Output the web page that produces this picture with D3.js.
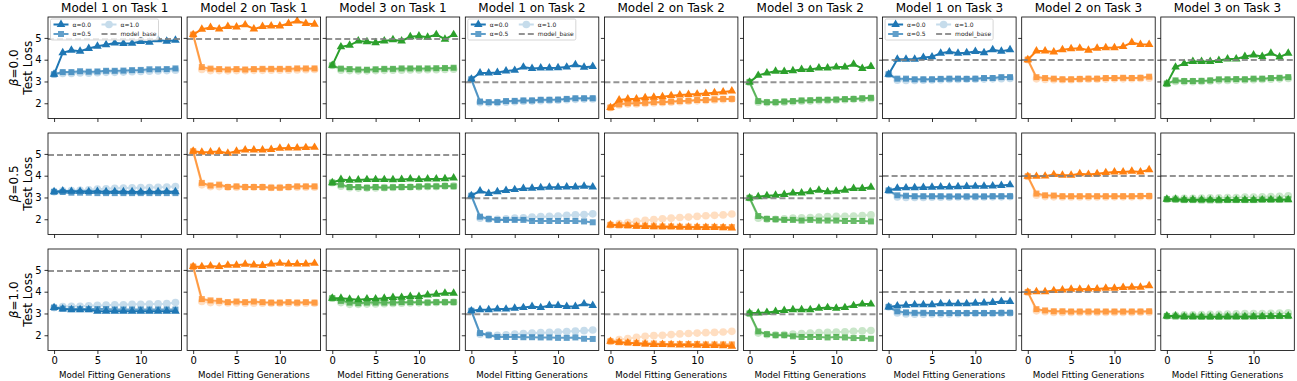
<!DOCTYPE html>
<html><head><meta charset="utf-8">
<script src="https://cdn.jsdelivr.net/npm/d3@7"></script>
<style>body{margin:0;background:#fff}svg{display:block}text{font-family:"DejaVu Sans",sans-serif}</style>
</head><body><svg id="c" width="1297" height="381"></svg>
<script>
const generations = [0,1,2,3,4,5,6,7,8,9,10,11,12,13,14];
const models = ["Model 1","Model 2","Model 3"];
const tasks = ["Task 1","Task 2","Task 3"];
const betaLabels = ["0.0","0.5","1.0"];
const alphaLabels = ["0.0","0.5","1.0"];
const modelBase = [4.95, 2.97, 3.99]; // per task
const yTicks = [2,3,4,5];
const xTicks = [0,5,10];
const modelColors = ["#1f77b4","#ff7f0e","#2ca02c"];

// panels ordered: Task1(M1,M2,M3), Task2(M1,M2,M3), Task3(M1,M2,M3)
const beta00_alpha00 = [
 [3.33,4.32,4.43,4.39,4.51,4.62,4.69,4.77,4.74,4.75,4.83,4.80,4.91,4.85,4.89],
 [5.15,5.40,5.48,5.41,5.52,5.50,5.60,5.41,5.52,5.55,5.55,5.66,5.77,5.66,5.63],
 [3.74,4.59,4.66,4.86,4.82,4.78,4.86,4.92,4.86,5.05,5.09,5.03,5.15,4.94,5.15],
 [3.10,3.39,3.39,3.41,3.48,3.51,3.66,3.60,3.62,3.62,3.63,3.66,3.77,3.65,3.69],
 [1.80,2.15,2.20,2.20,2.25,2.28,2.30,2.35,2.38,2.40,2.42,2.45,2.48,2.52,2.56],
 [2.97,3.28,3.39,3.47,3.46,3.49,3.55,3.55,3.62,3.62,3.66,3.66,3.79,3.60,3.69],
 [3.33,4.02,4.02,4.02,4.10,4.13,4.30,4.36,4.30,4.32,4.38,4.32,4.46,4.39,4.46],
 [4.00,4.40,4.40,4.35,4.46,4.50,4.53,4.43,4.53,4.55,4.55,4.60,4.79,4.70,4.70],
 [2.90,3.66,3.82,3.92,3.92,3.92,3.96,4.03,4.03,4.15,4.22,4.15,4.30,4.12,4.30]];
const beta00_alpha05 = [
 [3.33,3.43,3.43,3.47,3.45,3.46,3.49,3.49,3.50,3.52,3.53,3.56,3.56,3.57,3.60],
 [5.15,3.66,3.59,3.57,3.55,3.57,3.55,3.57,3.58,3.58,3.58,3.58,3.60,3.60,3.60],
 [3.74,3.59,3.57,3.55,3.54,3.56,3.58,3.58,3.60,3.60,3.60,3.60,3.61,3.62,3.63],
 [3.10,2.08,2.05,2.05,2.10,2.11,2.13,2.13,2.16,2.16,2.17,2.20,2.23,2.23,2.23],
 [1.80,1.95,2.00,2.00,2.02,2.05,2.05,2.08,2.10,2.12,2.15,2.15,2.18,2.20,2.20],
 [2.97,2.10,2.05,2.05,2.08,2.10,2.13,2.14,2.16,2.16,2.17,2.19,2.20,2.23,2.25],
 [3.33,3.13,3.13,3.10,3.10,3.10,3.12,3.13,3.13,3.12,3.13,3.16,3.16,3.20,3.20],
 [4.00,3.20,3.16,3.13,3.10,3.10,3.12,3.13,3.13,3.16,3.16,3.17,3.16,3.17,3.22],
 [2.90,3.05,3.02,3.02,3.03,3.05,3.10,3.10,3.11,3.10,3.13,3.13,3.16,3.17,3.20]];
const beta00_alpha10 = [
 [3.33,3.37,3.37,3.39,3.38,3.40,3.42,3.42,3.43,3.45,3.46,3.47,3.48,3.50,3.52],
 [5.15,3.55,3.50,3.50,3.49,3.50,3.50,3.51,3.51,3.52,3.52,3.52,3.53,3.54,3.55],
 [3.74,3.52,3.50,3.49,3.49,3.50,3.51,3.52,3.52,3.53,3.53,3.54,3.54,3.55,3.56],
 [3.10,2.03,2.02,2.03,2.05,2.07,2.09,2.10,2.12,2.13,2.14,2.16,2.18,2.19,2.20],
 [1.80,1.92,1.96,1.97,1.99,2.01,2.03,2.05,2.07,2.09,2.11,2.13,2.15,2.17,2.19],
 [2.97,2.05,2.03,2.03,2.05,2.07,2.09,2.10,2.12,2.13,2.15,2.16,2.18,2.19,2.21],
 [3.33,3.06,3.05,3.05,3.06,3.07,3.08,3.09,3.09,3.10,3.10,3.11,3.12,3.13,3.14],
 [4.00,3.12,3.09,3.08,3.08,3.08,3.09,3.10,3.10,3.11,3.12,3.12,3.13,3.14,3.15],
 [2.90,3.00,2.99,2.99,3.00,3.02,3.04,3.05,3.06,3.07,3.08,3.09,3.10,3.12,3.14]];
const beta05_alpha00 = [
 [3.26,3.30,3.28,3.28,3.27,3.28,3.26,3.27,3.26,3.26,3.25,3.26,3.26,3.27,3.26],
 [5.12,5.08,5.09,5.11,5.03,5.12,5.18,5.18,5.18,5.20,5.26,5.27,5.27,5.29,5.30],
 [3.68,3.83,3.79,3.80,3.82,3.82,3.82,3.81,3.83,3.85,3.82,3.85,3.85,3.86,3.89],
 [3.08,3.30,3.18,3.26,3.32,3.36,3.41,3.42,3.45,3.47,3.47,3.48,3.48,3.52,3.48],
 [1.74,1.72,1.70,1.68,1.67,1.66,1.66,1.65,1.64,1.63,1.63,1.62,1.62,1.61,1.60],
 [2.98,3.03,3.08,3.10,3.14,3.20,3.21,3.26,3.33,3.26,3.29,3.33,3.41,3.41,3.47],
 [3.32,3.42,3.44,3.45,3.46,3.47,3.48,3.48,3.49,3.50,3.51,3.52,3.53,3.55,3.58],
 [3.97,3.97,3.98,4.05,4.02,4.02,4.09,4.06,4.09,4.14,4.17,4.17,4.20,4.17,4.27],
 [2.92,2.92,2.90,2.90,2.89,2.89,2.88,2.88,2.88,2.88,2.88,2.89,2.90,2.90,2.90]];
const beta05_alpha05 = [
 [3.26,3.25,3.22,3.22,3.22,3.20,3.20,3.20,3.20,3.20,3.20,3.20,3.20,3.20,3.20],
 [5.12,3.67,3.55,3.59,3.48,3.51,3.48,3.48,3.48,3.45,3.45,3.48,3.51,3.51,3.51],
 [3.68,3.59,3.48,3.48,3.45,3.48,3.45,3.47,3.48,3.48,3.50,3.51,3.51,3.53,3.51],
 [3.08,2.12,2.02,1.97,1.97,1.97,1.97,1.92,1.92,1.92,1.92,1.92,1.92,1.90,1.86],
 [1.74,1.72,1.72,1.70,1.70,1.68,1.67,1.67,1.66,1.66,1.65,1.65,1.65,1.64,1.64],
 [2.98,2.15,2.02,2.00,1.97,1.97,1.94,1.97,1.94,1.94,1.94,1.92,1.92,1.92,1.90],
 [3.32,3.10,3.08,3.06,3.06,3.06,3.06,3.05,3.05,3.05,3.05,3.05,3.06,3.06,3.06],
 [3.97,3.18,3.10,3.09,3.06,3.06,3.06,3.06,3.06,3.06,3.06,3.06,3.06,3.07,3.07],
 [2.92,2.90,2.88,2.88,2.87,2.87,2.87,2.88,2.88,2.88,2.88,2.90,2.90,2.90,2.92]];
const beta05_alpha10 = [
 [3.26,3.30,3.32,3.33,3.35,3.38,3.40,3.42,3.43,3.44,3.45,3.46,3.47,3.48,3.50],
 [5.12,3.58,3.50,3.50,3.47,3.47,3.47,3.47,3.47,3.46,3.46,3.47,3.47,3.47,3.47],
 [3.68,3.52,3.45,3.43,3.43,3.44,3.45,3.46,3.47,3.48,3.49,3.50,3.50,3.52,3.53],
 [3.08,2.05,2.00,2.00,2.02,2.05,2.07,2.10,2.12,2.13,2.15,2.18,2.20,2.22,2.25],
 [1.74,1.80,1.85,1.90,1.95,1.98,2.02,2.05,2.08,2.10,2.13,2.16,2.18,2.20,2.24],
 [2.98,2.05,2.00,2.00,2.02,2.05,2.07,2.08,2.10,2.12,2.13,2.14,2.15,2.17,2.20],
 [3.32,3.02,3.00,3.00,3.00,3.01,3.01,3.01,3.02,3.02,3.02,3.02,3.03,3.03,3.04],
 [3.97,3.10,3.04,3.03,3.02,3.02,3.02,3.02,3.02,3.02,3.03,3.03,3.03,3.04,3.05],
 [2.92,2.95,2.96,2.96,2.97,2.98,2.98,3.00,3.00,3.02,3.02,3.03,3.04,3.05,3.08]];
const beta10_alpha00 = [
 [3.27,3.21,3.17,3.17,3.17,3.10,3.10,3.10,3.10,3.10,3.10,3.10,3.10,3.10,3.10],
 [5.15,5.15,5.18,5.15,5.21,5.21,5.26,5.23,5.20,5.27,5.30,5.27,5.27,5.27,5.30],
 [3.70,3.70,3.66,3.63,3.67,3.67,3.70,3.73,3.74,3.78,3.78,3.85,3.88,3.93,3.93],
 [3.12,3.17,3.17,3.20,3.20,3.24,3.27,3.32,3.27,3.37,3.37,3.32,3.32,3.44,3.37],
 [1.72,1.68,1.65,1.62,1.60,1.58,1.58,1.56,1.55,1.55,1.54,1.53,1.53,1.52,1.50],
 [3.02,3.02,3.05,3.09,3.14,3.17,3.17,3.17,3.24,3.27,3.24,3.27,3.36,3.43,3.43],
 [3.30,3.35,3.38,3.40,3.40,3.40,3.45,3.45,3.45,3.45,3.47,3.48,3.50,3.55,3.55],
 [3.98,4.00,4.00,4.05,4.08,4.11,4.11,4.12,4.12,4.16,4.16,4.19,4.20,4.20,4.27],
 [2.88,2.88,2.85,2.85,2.85,2.85,2.85,2.85,2.85,2.85,2.85,2.86,2.87,2.87,2.88]];
const beta10_alpha05 = [
 [3.27,3.22,3.20,3.20,3.20,3.20,3.20,3.18,3.18,3.18,3.18,3.18,3.18,3.18,3.18],
 [5.15,3.66,3.60,3.58,3.52,3.55,3.52,3.55,3.52,3.50,3.50,3.52,3.50,3.52,3.50],
 [3.70,3.58,3.50,3.47,3.50,3.50,3.50,3.50,3.52,3.52,3.52,3.50,3.52,3.52,3.52],
 [3.12,2.10,2.00,1.92,1.92,1.92,1.91,1.91,1.90,1.90,1.88,1.88,1.90,1.84,1.83],
 [1.72,1.68,1.66,1.64,1.62,1.62,1.60,1.60,1.60,1.60,1.60,1.58,1.58,1.58,1.58],
 [3.00,2.18,2.05,2.00,2.00,1.95,1.92,1.92,1.92,1.90,1.92,1.90,1.87,1.87,1.84],
 [3.30,3.10,3.05,3.03,3.03,3.02,3.02,3.02,3.02,3.02,3.02,3.02,3.02,3.03,3.03],
 [3.98,3.20,3.14,3.10,3.10,3.09,3.09,3.09,3.09,3.09,3.09,3.09,3.09,3.09,3.10],
 [2.88,2.86,2.86,2.86,2.85,2.85,2.85,2.86,2.86,2.86,2.87,2.87,2.88,2.88,2.88]];
const beta10_alpha10 = [
 [3.27,3.32,3.33,3.33,3.35,3.37,3.38,3.40,3.40,3.42,3.42,3.43,3.44,3.45,3.50],
 [5.15,3.55,3.50,3.50,3.48,3.48,3.47,3.47,3.47,3.47,3.47,3.47,3.47,3.47,3.47],
 [3.70,3.50,3.42,3.42,3.43,3.44,3.45,3.46,3.47,3.48,3.49,3.50,3.50,3.51,3.52],
 [3.12,2.05,2.02,2.00,2.02,2.05,2.08,2.10,2.12,2.13,2.15,2.17,2.19,2.21,2.24],
 [1.72,1.80,1.85,1.90,1.95,1.98,2.00,2.03,2.06,2.08,2.10,2.12,2.13,2.15,2.18],
 [3.00,2.10,2.03,2.02,2.03,2.05,2.08,2.10,2.12,2.13,2.15,2.16,2.18,2.20,2.22],
 [3.30,3.02,2.98,2.97,2.97,2.98,2.98,2.98,2.99,3.00,3.00,3.00,3.00,3.01,3.02],
 [3.98,3.12,3.08,3.05,3.05,3.05,3.05,3.05,3.05,3.05,3.05,3.05,3.05,3.06,3.06],
 [2.88,2.92,2.94,2.94,2.95,2.96,2.96,2.97,2.98,2.99,3.00,3.00,3.01,3.02,3.03]];

const rowsData = [
  [beta00_alpha00, beta00_alpha05, beta00_alpha10],
  [beta05_alpha00, beta05_alpha05, beta05_alpha10],
  [beta10_alpha00, beta10_alpha05, beta10_alpha10]];

// layout
const left0 = 48, colStep = 139.1, pw = 133.5;
const top0 = 17, rowStep = 116, ph = 101.5;
const svg = d3.select("#c");
svg.append("rect").attr("width",1297).attr("height",381).attr("fill","#fff");

const x = d3.scaleLinear().domain([-0.7, 14.7]).range([0, pw]);
const y = d3.scaleLinear().domain([1.3, 5.96]).range([ph, 0]);

const styles = [
  {sym: d3.symbolTriangle, size: 32, op: 1.0, lw: 2},
  {sym: d3.symbolSquare, size: 36, op: 0.7, lw: 2},
  {sym: d3.symbolCircle, size: 46, op: 0.25, lw: 2}];

const line = d3.line().x((d,i)=>x(generations[i])).y(d=>y(d));

for (let r=0;r<3;r++){
  for (let c=0;c<9;c++){
    const task = Math.floor(c/3), model = c%3;
    const color = modelColors[model];
    const g = svg.append("g").attr("transform",`translate(${left0+c*colStep},${top0+r*rowStep})`);
    g.append("defs").append("clipPath").attr("id",`cl${r}_${c}`)
      .append("rect").attr("width",pw).attr("height",ph);
    const plot = g.append("g").attr("clip-path",`url(#cl${r}_${c})`);
    for (let a=0;a<3;a++){
      const vals = rowsData[r][a][c];
      const st = styles[a];
      const sg = plot.append("g").attr("opacity",st.op);
      sg.append("path").attr("d",line(vals)).attr("fill","none")
        .attr("stroke",color).attr("stroke-width",st.lw);
      sg.selectAll("path.m").data(vals).enter().append("path").attr("class","m")
        .attr("d",d3.symbol().type(st.sym).size(st.size))
        .attr("transform",(d,i)=>`translate(${x(generations[i])},${y(d)})`)
        .attr("fill",color);
    }
    plot.append("line").attr("x1",0).attr("x2",pw)
      .attr("y1",y(modelBase[task])).attr("y2",y(modelBase[task]))
      .attr("stroke","#808080").attr("stroke-opacity",0.85)
      .attr("stroke-width",2).attr("stroke-dasharray","6,3");

    // axes
    const ya = d3.axisLeft(y).tickValues(yTicks).tickSize(3.5).tickPadding(3)
      .tickFormat(c===0? d3.format("d") : ()=>"");
    const yg = g.append("g").call(ya);
    const xa = d3.axisBottom(x).tickValues(xTicks).tickSize(3.5).tickPadding(3)
      .tickFormat(r===2? d3.format("d") : ()=>"");
    const xg = g.append("g").attr("transform",`translate(0,${ph})`).call(xa);
    [yg,xg].forEach(ax=>{
      ax.select(".domain").remove();
      ax.selectAll("line").attr("stroke","#000").attr("stroke-width",0.8);
      ax.selectAll("text").attr("font-size","10px").attr("fill","#000")
        .style("font-family","DejaVu Sans");
    });
    g.append("rect").attr("width",pw).attr("height",ph).attr("fill","none")
      .attr("stroke","#000").attr("stroke-width",0.8);

    if (r===0){
      g.append("text").attr("x",pw/2).attr("y",-5).attr("text-anchor","middle")
        .attr("font-size","12px").text(`${models[model]} on ${tasks[task]}`);
    }
    if (r===2){
      g.append("text").attr("x",pw/2).attr("y",ph+27.5).attr("text-anchor","middle")
        .attr("font-size","8.7px").text("Model Fitting Generations");
    }
    if (c===0){
      const lt = g.append("text").attr("transform",`translate(-30,${ph/2}) rotate(-90)`)
        .attr("text-anchor","middle").attr("font-size","12px");
      const t1 = lt.append("tspan").attr("x",0).attr("dy","0em");
      t1.append("tspan").attr("font-style","italic").text("β");
      t1.append("tspan").text("=" + betaLabels[r]);
      lt.append("tspan").attr("x",0).attr("dy","1.15em").text("Test Loss");
    }
    // legend in first model panel of each task, top row
    if (r===0 && model===0){
      const lg = g.append("g").attr("transform","translate(2.5,2)");
      lg.append("rect").attr("width",108).attr("height",21).attr("rx",1.5)
        .attr("fill","#fff").attr("fill-opacity",0.8).attr("stroke","#ccc").attr("stroke-width",0.8);
      const entries = [
        {label:"α=" + alphaLabels[0], a:0, cx:0, cy:0},
        {label:"α=" + alphaLabels[1], a:1, cx:0, cy:1},
        {label:"α=" + alphaLabels[2], a:2, cx:1, cy:0},
        {label:"model_base", a:-1, cx:1, cy:1}];
      entries.forEach(e=>{
        const ex = 3 + e.cx*48, ey = 5.5 + e.cy*9.5;
        const eg = lg.append("g").attr("transform",`translate(${ex},${ey})`);
        if (e.a>=0){
          const st = styles[e.a];
          const hg = eg.append("g").attr("opacity",st.op);
          hg.append("line").attr("x1",0).attr("x2",15).attr("stroke",color).attr("stroke-width",2);
          hg.append("path").attr("d",d3.symbol().type(st.sym).size(st.size))
            .attr("transform","translate(7.5,0)").attr("fill",color);
        } else {
          eg.append("line").attr("x1",0).attr("x2",15).attr("stroke","#808080")
            .attr("stroke-opacity",0.85).attr("stroke-width",2).attr("stroke-dasharray","6,3");
        }
        eg.append("text").attr("x",19).attr("y",2.2).attr("font-size","6px").attr("fill","#222")
          .text(e.label);
      });
    }
  }
}
</script></body></html>
